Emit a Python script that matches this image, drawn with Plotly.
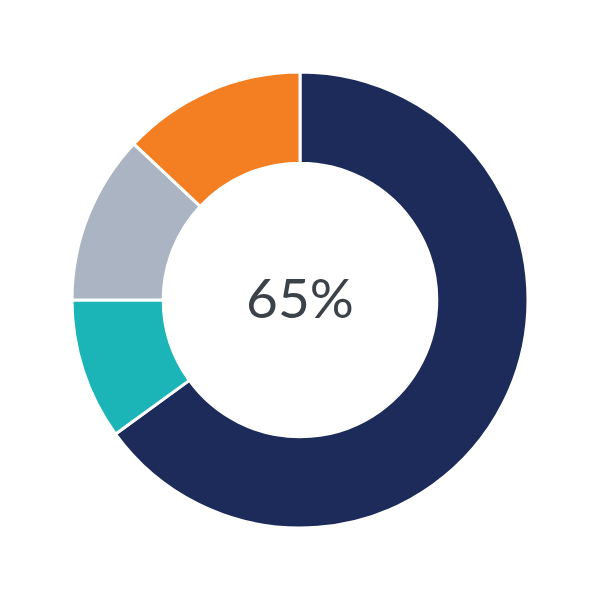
import plotly.graph_objects as go

labels = ["Navy", "Teal", "Gray", "Orange"]
values = [65, 10, 12, 13]
colors = ["#1c2b5a", "#1bb5b8", "#aab4c2", "#f37f22"]
center_text = "65%"

fig = go.Figure(go.Pie(
    labels=labels,
    values=values,
    hole=0.6,
    sort=False,
    direction="clockwise",
    rotation=0,
    marker=dict(colors=colors, line=dict(color="white", width=3)),
    textinfo="none",
    hoverinfo="label+percent",
    showlegend=False,
))

fig.update_layout(
    width=600, height=600,
    margin=dict(l=64, r=80, t=64, b=80),
    paper_bgcolor="white",
    plot_bgcolor="white",
    annotations=[dict(
        text=center_text, x=0.5, y=0.5, xref="paper", yref="paper",
        showarrow=False, yshift=3,
        font=dict(family="Lato", size=55, color="#3b4249"),
    )],
)

fig.write_html("out.html")
